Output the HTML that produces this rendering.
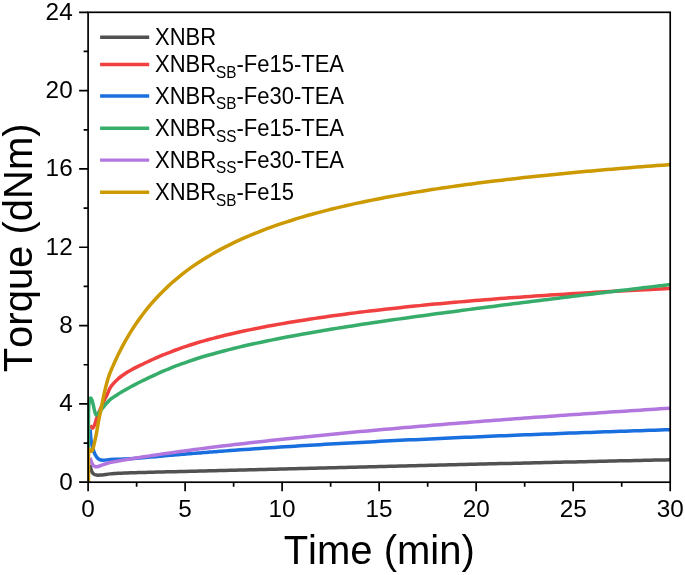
<!DOCTYPE html>
<html><head><meta charset="utf-8"><title>Torque vs Time</title>
<style>html,body{margin:0;padding:0;background:#fff}body{width:685px;height:575px;overflow:hidden}</style></head>
<body>
<svg width="685" height="575" viewBox="0 0 685 575" style="display:block">
<rect width="685" height="575" fill="#fff"/>
<defs><clipPath id="pc"><rect x="87.40" y="11.60" width="583.50" height="471.30"/></clipPath></defs>
<g clip-path="url(#pc)" fill="none" stroke-width="3.5" stroke-linejoin="round">
<path d="M90.20 464.80 C90.40 466.03 90.48 467.30 90.80 468.50 C91.15 469.80 91.53 471.17 92.20 472.30 C92.69 473.13 93.49 473.88 94.30 474.40 C94.89 474.78 95.68 474.91 96.40 475.00 C97.58 475.14 98.81 475.17 100.00 475.08 C103.34 474.80 106.66 474.23 110.00 473.87 C111.33 473.73 112.67 473.68 114.00 473.59 C115.33 473.51 116.67 473.43 118.00 473.36 C119.33 473.29 120.67 473.23 122.00 473.17 C123.33 473.11 124.67 473.06 126.00 473.01 C127.33 472.96 128.67 472.91 130.00 472.86 C131.33 472.82 132.67 472.77 134.00 472.73 C135.33 472.69 136.67 472.65 138.00 472.61 C139.33 472.57 140.67 472.53 142.00 472.49 C143.33 472.45 144.67 472.41 146.00 472.38 C147.33 472.34 148.67 472.30 150.00 472.27 C151.33 472.23 152.67 472.20 154.00 472.16 C155.33 472.13 156.67 472.10 158.00 472.06 C159.33 472.03 160.67 471.99 162.00 471.96 C163.33 471.93 164.67 471.89 166.00 471.86 C167.33 471.83 168.67 471.79 170.00 471.76 C173.33 471.68 176.67 471.60 180.00 471.51 C183.33 471.43 186.67 471.35 190.00 471.27 C193.33 471.19 196.67 471.10 200.00 471.02 C203.33 470.94 206.67 470.86 210.00 470.77 C213.33 470.69 216.67 470.61 220.00 470.53 C223.33 470.44 226.67 470.36 230.00 470.28 C233.33 470.19 236.67 470.11 240.00 470.03 C243.33 469.94 246.67 469.86 250.00 469.78 C253.33 469.69 256.67 469.61 260.00 469.52 C263.33 469.44 266.67 469.36 270.00 469.27 C273.33 469.19 276.67 469.10 280.00 469.02 C283.33 468.93 286.67 468.85 290.00 468.77 C293.33 468.68 296.67 468.60 300.00 468.51 C303.33 468.43 306.67 468.35 310.00 468.26 C313.33 468.18 316.67 468.09 320.00 468.01 C323.33 467.93 326.67 467.84 330.00 467.76 C333.33 467.68 336.67 467.59 340.00 467.51 C343.33 467.43 346.67 467.34 350.00 467.26 C353.33 467.18 356.67 467.09 360.00 467.01 C363.33 466.93 366.67 466.84 370.00 466.76 C373.33 466.68 376.67 466.60 380.00 466.51 C383.33 466.43 386.67 466.35 390.00 466.27 C393.33 466.18 396.67 466.10 400.00 466.02 C403.33 465.94 406.67 465.86 410.00 465.77 C413.33 465.69 416.67 465.61 420.00 465.53 C423.33 465.45 426.67 465.37 430.00 465.29 C433.33 465.21 436.67 465.13 440.00 465.05 C443.33 464.96 446.67 464.88 450.00 464.80 C453.33 464.72 456.67 464.64 460.00 464.56 C463.33 464.48 466.67 464.40 470.00 464.33 C473.33 464.25 476.67 464.17 480.00 464.09 C483.33 464.01 486.67 463.93 490.00 463.85 C493.33 463.77 496.67 463.69 500.00 463.62 C503.33 463.54 506.67 463.46 510.00 463.38 C513.33 463.30 516.67 463.22 520.00 463.15 C523.33 463.07 526.67 462.99 530.00 462.91 C533.33 462.84 536.67 462.76 540.00 462.68 C543.33 462.61 546.67 462.53 550.00 462.45 C553.33 462.38 556.67 462.30 560.00 462.22 C563.33 462.15 566.67 462.07 570.00 462.00 C573.33 461.92 576.67 461.84 580.00 461.77 C583.33 461.69 586.67 461.62 590.00 461.54 C593.33 461.47 596.67 461.39 600.00 461.32 C603.33 461.24 606.67 461.17 610.00 461.09 C613.33 461.02 616.67 460.95 620.00 460.87 C623.33 460.80 626.67 460.72 630.00 460.65 C633.33 460.58 636.67 460.50 640.00 460.43 C643.33 460.36 646.67 460.28 650.00 460.21 C653.33 460.14 656.67 460.06 660.00 459.99 C663.33 459.92 666.67 459.85 670.00 459.77" stroke="#515151"/>
<path d="M90.20 425.30 C90.60 426.00 90.87 426.85 91.40 427.40 C91.73 427.75 92.49 428.25 92.80 428.00 C93.55 427.39 94.15 425.93 94.60 424.80 C95.52 422.47 96.06 419.97 96.90 417.60 C97.66 415.47 98.53 413.38 99.40 411.30 C100.86 407.82 102.32 404.33 103.90 400.90 C104.99 398.53 106.28 396.26 107.40 393.90 C108.32 391.97 108.91 389.86 110.00 388.04 C111.11 386.20 112.57 384.55 114.00 382.93 C115.24 381.53 116.62 380.24 118.00 378.97 C118.95 378.10 119.97 377.29 121.00 376.51 C122.30 375.52 123.65 374.59 125.00 373.68 C125.98 373.02 126.99 372.40 128.00 371.80 C129.32 371.02 130.66 370.26 132.00 369.52 C132.99 368.97 133.99 368.44 135.00 367.93 C136.66 367.08 138.33 366.24 140.00 365.42 C141.66 364.60 143.33 363.81 145.00 363.02 C146.66 362.23 148.33 361.46 150.00 360.69 C151.66 359.93 153.33 359.17 155.00 358.43 C156.33 357.84 157.66 357.25 159.00 356.68 C160.33 356.11 161.66 355.54 163.00 354.98 C164.33 354.43 165.66 353.89 167.00 353.35 C168.33 352.81 169.66 352.29 171.00 351.77 C172.33 351.26 173.66 350.75 175.00 350.25 C176.33 349.76 177.66 349.27 179.00 348.79 C180.33 348.31 181.66 347.85 183.00 347.39 C184.33 346.93 185.66 346.48 187.00 346.04 C188.33 345.60 189.66 345.16 191.00 344.74 C192.33 344.31 193.66 343.90 195.00 343.49 C196.33 343.08 197.66 342.67 199.00 342.28 C200.33 341.88 201.66 341.49 203.00 341.11 C204.33 340.73 205.67 340.35 207.00 339.98 C208.33 339.61 209.67 339.25 211.00 338.89 C212.33 338.53 213.66 338.17 215.00 337.83 C218.33 336.98 221.66 336.13 225.00 335.32 C228.33 334.51 231.66 333.73 235.00 332.98 C238.33 332.22 241.66 331.49 245.00 330.78 C248.33 330.07 251.66 329.39 255.00 328.72 C258.33 328.05 261.66 327.40 265.00 326.77 C268.33 326.14 271.66 325.52 275.00 324.92 C278.33 324.32 281.66 323.74 285.00 323.17 C288.33 322.60 291.66 322.04 295.00 321.50 C298.33 320.96 301.66 320.43 305.00 319.91 C308.33 319.39 311.67 318.88 315.00 318.38 C318.33 317.88 321.67 317.40 325.00 316.92 C328.33 316.44 331.67 315.98 335.00 315.52 C338.33 315.06 341.67 314.61 345.00 314.17 C348.33 313.73 351.67 313.30 355.00 312.88 C358.33 312.45 361.67 312.04 365.00 311.63 C368.33 311.23 371.67 310.83 375.00 310.44 C378.33 310.04 381.67 309.66 385.00 309.28 C388.33 308.91 391.67 308.54 395.00 308.17 C398.33 307.81 401.67 307.45 405.00 307.10 C408.33 306.75 411.67 306.41 415.00 306.07 C418.33 305.73 421.67 305.40 425.00 305.08 C428.33 304.75 431.67 304.43 435.00 304.11 C438.33 303.80 441.67 303.49 445.00 303.19 C448.33 302.88 451.67 302.58 455.00 302.29 C458.33 301.99 461.67 301.71 465.00 301.42 C468.33 301.14 471.67 300.86 475.00 300.58 C478.33 300.31 481.67 300.04 485.00 299.77 C488.33 299.50 491.67 299.24 495.00 298.98 C498.33 298.73 501.67 298.47 505.00 298.22 C508.33 297.97 511.67 297.73 515.00 297.49 C518.33 297.24 521.67 297.01 525.00 296.77 C528.33 296.54 531.67 296.31 535.00 296.08 C538.33 295.85 541.67 295.63 545.00 295.41 C548.33 295.19 551.67 294.97 555.00 294.76 C558.33 294.54 561.67 294.33 565.00 294.13 C568.33 293.92 571.67 293.72 575.00 293.51 C578.33 293.31 581.67 293.11 585.00 292.92 C588.33 292.72 591.67 292.53 595.00 292.34 C598.33 292.15 601.67 291.97 605.00 291.78 C608.33 291.60 611.67 291.42 615.00 291.24 C618.33 291.06 621.67 290.88 625.00 290.71 C628.33 290.53 631.67 290.36 635.00 290.19 C638.33 290.02 641.67 289.86 645.00 289.69 C648.33 289.53 651.67 289.37 655.00 289.21 C658.33 289.05 661.67 288.89 665.00 288.74 C666.67 288.66 668.33 288.58 670.00 288.51" stroke="#F14040"/>
<path d="M90.20 429.50 C90.27 430.67 90.30 431.84 90.40 433.00 C90.62 435.67 90.78 438.35 91.15 441.00 C91.38 442.68 91.80 444.35 92.20 446.00 C92.55 447.41 92.92 448.83 93.40 450.20 C93.98 451.86 94.52 453.59 95.40 455.10 C96.22 456.52 97.18 458.13 98.50 459.00 C99.82 459.87 101.67 460.24 103.30 460.30 C105.51 460.38 107.76 459.56 110.00 459.42 C113.32 459.21 116.67 459.37 120.00 459.24 C123.34 459.11 126.67 458.88 130.00 458.66 C133.34 458.44 136.67 458.17 140.00 457.91 C143.33 457.65 146.67 457.37 150.00 457.09 C153.33 456.81 156.67 456.52 160.00 456.24 C163.33 455.95 166.67 455.67 170.00 455.38 C171.33 455.27 172.67 455.16 174.00 455.04 C175.33 454.93 176.67 454.82 178.00 454.70 C179.33 454.59 180.67 454.48 182.00 454.37 C183.33 454.26 184.67 454.15 186.00 454.03 C187.33 453.92 188.67 453.81 190.00 453.70 C191.33 453.59 192.67 453.49 194.00 453.38 C195.33 453.27 196.67 453.16 198.00 453.05 C199.33 452.94 200.67 452.84 202.00 452.73 C203.33 452.62 204.67 452.52 206.00 452.41 C207.33 452.31 208.67 452.20 210.00 452.10 C211.33 451.99 212.67 451.89 214.00 451.79 C215.33 451.68 216.67 451.58 218.00 451.48 C219.33 451.38 220.67 451.28 222.00 451.18 C223.33 451.07 224.67 450.97 226.00 450.87 C227.33 450.77 228.67 450.67 230.00 450.58 C233.33 450.33 236.67 450.09 240.00 449.85 C243.33 449.61 246.67 449.37 250.00 449.14 C253.33 448.90 256.67 448.67 260.00 448.44 C263.33 448.22 266.67 447.99 270.00 447.77 C273.33 447.55 276.67 447.33 280.00 447.12 C283.33 446.90 286.67 446.69 290.00 446.48 C293.33 446.27 296.67 446.06 300.00 445.85 C303.33 445.65 306.67 445.45 310.00 445.25 C313.33 445.05 316.67 444.85 320.00 444.65 C323.33 444.46 326.67 444.27 330.00 444.08 C333.33 443.88 336.67 443.70 340.00 443.51 C343.33 443.32 346.67 443.14 350.00 442.96 C353.33 442.77 356.67 442.59 360.00 442.42 C363.33 442.24 366.67 442.06 370.00 441.89 C373.33 441.71 376.67 441.54 380.00 441.37 C383.33 441.20 386.67 441.03 390.00 440.86 C393.33 440.69 396.67 440.53 400.00 440.36 C403.33 440.20 406.67 440.03 410.00 439.87 C413.33 439.71 416.67 439.55 420.00 439.39 C423.33 439.24 426.67 439.08 430.00 438.92 C433.33 438.77 436.67 438.62 440.00 438.46 C443.33 438.31 446.67 438.16 450.00 438.01 C453.33 437.86 456.67 437.71 460.00 437.57 C463.33 437.42 466.67 437.27 470.00 437.13 C473.33 436.98 476.67 436.84 480.00 436.70 C483.33 436.56 486.67 436.42 490.00 436.28 C493.33 436.14 496.67 436.00 500.00 435.86 C503.33 435.72 506.67 435.59 510.00 435.45 C513.33 435.32 516.67 435.18 520.00 435.05 C523.33 434.91 526.67 434.78 530.00 434.65 C533.33 434.52 536.67 434.39 540.00 434.26 C543.33 434.13 546.67 434.00 550.00 433.88 C553.33 433.75 556.67 433.62 560.00 433.50 C563.33 433.37 566.67 433.25 570.00 433.12 C573.33 433.00 576.67 432.88 580.00 432.76 C583.33 432.63 586.67 432.51 590.00 432.39 C593.33 432.27 596.67 432.15 600.00 432.03 C603.33 431.92 606.67 431.80 610.00 431.68 C613.33 431.56 616.67 431.45 620.00 431.33 C623.33 431.22 626.67 431.10 630.00 430.99 C633.33 430.87 636.67 430.76 640.00 430.65 C643.33 430.54 646.67 430.42 650.00 430.31 C653.33 430.20 656.67 430.09 660.00 429.98 C663.33 429.87 666.67 429.76 670.00 429.66" stroke="#1A6FDF"/>
<path d="M88.40 449.00 C88.42 442.67 88.42 436.33 88.45 430.00 C88.48 423.33 88.42 416.66 88.60 410.00 C88.67 407.16 88.76 404.28 89.20 401.50 C89.39 400.28 89.96 398.36 90.50 398.00 C90.82 397.79 91.51 399.13 91.80 399.80 C92.31 400.96 92.57 402.26 92.90 403.50 C93.27 404.92 93.56 406.37 93.90 407.80 C94.29 409.47 94.57 411.18 95.10 412.80 C95.37 413.62 95.78 414.96 96.30 415.10 C96.75 415.22 97.50 414.16 98.00 413.60 C99.73 411.66 101.31 409.58 103.00 407.60 C105.14 405.09 107.05 402.32 109.50 400.14 C112.05 397.87 115.13 396.17 118.00 394.26 C119.30 393.39 120.66 392.61 122.00 391.81 C123.32 391.01 124.66 390.24 126.00 389.48 C127.33 388.73 128.66 387.99 130.00 387.26 C131.33 386.54 132.66 385.83 134.00 385.12 C135.33 384.43 136.66 383.74 138.00 383.06 C139.33 382.38 140.66 381.71 142.00 381.05 C143.33 380.39 144.66 379.74 146.00 379.09 C147.33 378.45 148.66 377.81 150.00 377.18 C151.33 376.55 152.66 375.93 154.00 375.31 C155.33 374.70 156.66 374.09 158.00 373.49 C159.33 372.89 160.66 372.30 162.00 371.71 C163.33 371.13 164.66 370.56 166.00 370.00 C167.33 369.44 168.66 368.88 170.00 368.34 C171.33 367.80 172.66 367.26 174.00 366.73 C175.33 366.21 176.66 365.68 178.00 365.19 C181.33 363.96 184.65 362.73 188.00 361.57 C191.32 360.42 194.65 359.33 198.00 358.28 C201.32 357.23 204.66 356.23 208.00 355.26 C211.32 354.29 214.66 353.36 218.00 352.46 C221.33 351.56 224.66 350.69 228.00 349.85 C231.33 349.01 234.66 348.19 238.00 347.40 C241.33 346.60 244.66 345.83 248.00 345.08 C251.33 344.32 254.66 343.59 258.00 342.87 C261.33 342.16 264.66 341.46 268.00 340.77 C271.33 340.09 274.66 339.42 278.00 338.76 C281.33 338.11 284.66 337.46 288.00 336.83 C291.33 336.20 294.66 335.58 298.00 334.97 C301.33 334.36 304.67 333.77 308.00 333.18 C311.33 332.59 314.67 332.01 318.00 331.44 C321.33 330.87 324.67 330.31 328.00 329.76 C331.33 329.21 334.67 328.66 338.00 328.13 C341.33 327.59 344.67 327.06 348.00 326.54 C351.33 326.01 354.67 325.50 358.00 324.99 C361.33 324.48 364.67 323.97 368.00 323.48 C371.33 322.98 374.67 322.48 378.00 321.99 C381.33 321.51 384.67 321.02 388.00 320.54 C391.33 320.06 394.67 319.59 398.00 319.11 C401.33 318.64 404.67 318.17 408.00 317.71 C411.33 317.24 414.67 316.78 418.00 316.32 C421.33 315.86 424.67 315.41 428.00 314.96 C431.33 314.50 434.67 314.05 438.00 313.60 C441.33 313.15 444.67 312.71 448.00 312.27 C451.33 311.82 454.67 311.38 458.00 310.94 C461.33 310.50 464.67 310.06 468.00 309.63 C471.33 309.19 474.67 308.76 478.00 308.33 C481.33 307.89 484.67 307.46 488.00 307.03 C491.33 306.60 494.67 306.18 498.00 305.75 C501.33 305.32 504.67 304.90 508.00 304.47 C511.33 304.05 514.67 303.63 518.00 303.21 C521.33 302.79 524.67 302.37 528.00 301.95 C531.33 301.53 534.67 301.11 538.00 300.69 C541.33 300.28 544.67 299.86 548.00 299.44 C551.33 299.03 554.67 298.62 558.00 298.20 C561.33 297.79 564.67 297.38 568.00 296.97 C571.33 296.55 574.67 296.14 578.00 295.73 C581.33 295.32 584.67 294.92 588.00 294.51 C591.33 294.10 594.67 293.69 598.00 293.28 C601.33 292.88 604.67 292.47 608.00 292.07 C611.33 291.66 614.67 291.26 618.00 290.85 C621.33 290.45 624.67 290.04 628.00 289.64 C631.33 289.24 634.67 288.84 638.00 288.43 C641.33 288.03 644.67 287.63 648.00 287.23 C651.33 286.83 654.67 286.43 658.00 286.03 C661.33 285.63 664.67 285.23 668.00 284.83 C668.67 284.75 669.33 284.68 670.00 284.60" stroke="#37AD6B"/>
<path d="M90.20 457.80 C90.57 459.03 90.84 460.30 91.30 461.50 C91.77 462.70 92.21 464.03 93.00 465.00 C93.64 465.79 94.65 466.56 95.60 466.80 C96.48 467.02 97.57 466.67 98.50 466.40 C100.13 465.94 101.68 465.16 103.30 464.61 C105.52 463.86 107.74 463.10 110.00 462.50 C111.31 462.16 112.67 462.02 114.00 461.78 C115.33 461.54 116.67 461.30 118.00 461.07 C119.33 460.84 120.67 460.60 122.00 460.38 C123.33 460.15 124.67 459.92 126.00 459.70 C127.33 459.47 128.67 459.25 130.00 459.03 C131.33 458.81 132.67 458.60 134.00 458.38 C135.33 458.16 136.67 457.95 138.00 457.74 C139.33 457.52 140.67 457.31 142.00 457.10 C143.33 456.90 144.67 456.69 146.00 456.48 C147.33 456.28 148.67 456.07 150.00 455.87 C151.33 455.67 152.67 455.47 154.00 455.27 C155.33 455.07 156.67 454.87 158.00 454.67 C159.33 454.47 160.67 454.28 162.00 454.08 C163.33 453.89 164.67 453.70 166.00 453.51 C167.33 453.31 168.67 453.12 170.00 452.93 C173.33 452.47 176.67 452.00 180.00 451.54 C183.33 451.08 186.67 450.63 190.00 450.19 C193.33 449.74 196.67 449.31 200.00 448.87 C203.33 448.44 206.67 448.02 210.00 447.60 C213.33 447.18 216.67 446.77 220.00 446.36 C223.33 445.95 226.67 445.55 230.00 445.15 C233.33 444.75 236.67 444.36 240.00 443.97 C243.33 443.58 246.67 443.20 250.00 442.82 C253.33 442.44 256.67 442.06 260.00 441.69 C263.33 441.32 266.67 440.95 270.00 440.59 C273.33 440.23 276.67 439.87 280.00 439.51 C283.33 439.16 286.67 438.80 290.00 438.46 C293.33 438.11 296.67 437.76 300.00 437.42 C303.33 437.08 306.67 436.74 310.00 436.41 C313.33 436.07 316.67 435.74 320.00 435.41 C323.33 435.08 326.67 434.76 330.00 434.43 C333.33 434.11 336.67 433.79 340.00 433.47 C343.33 433.16 346.67 432.84 350.00 432.53 C353.33 432.22 356.67 431.91 360.00 431.60 C363.33 431.29 366.67 430.99 370.00 430.69 C373.33 430.39 376.67 430.09 380.00 429.79 C383.33 429.49 386.67 429.20 390.00 428.90 C393.33 428.61 396.67 428.32 400.00 428.03 C403.33 427.74 406.67 427.46 410.00 427.17 C413.33 426.89 416.67 426.61 420.00 426.33 C423.33 426.05 426.67 425.77 430.00 425.49 C433.33 425.22 436.67 424.94 440.00 424.67 C443.33 424.40 446.67 424.13 450.00 423.86 C453.33 423.59 456.67 423.32 460.00 423.06 C463.33 422.79 466.67 422.53 470.00 422.27 C473.33 422.01 476.67 421.75 480.00 421.49 C483.33 421.23 486.67 420.97 490.00 420.72 C493.33 420.46 496.67 420.21 500.00 419.95 C503.33 419.70 506.67 419.45 510.00 419.20 C513.33 418.95 516.67 418.70 520.00 418.46 C523.33 418.21 526.67 417.97 530.00 417.72 C533.33 417.48 536.67 417.24 540.00 417.00 C543.33 416.76 546.67 416.52 550.00 416.28 C553.33 416.04 556.67 415.80 560.00 415.57 C563.33 415.33 566.67 415.10 570.00 414.86 C573.33 414.63 576.67 414.40 580.00 414.17 C583.33 413.94 586.67 413.71 590.00 413.48 C593.33 413.25 596.67 413.02 600.00 412.80 C603.33 412.57 606.67 412.35 610.00 412.12 C613.33 411.90 616.67 411.68 620.00 411.46 C623.33 411.23 626.67 411.01 630.00 410.79 C633.33 410.58 636.67 410.36 640.00 410.14 C643.33 409.92 646.67 409.71 650.00 409.49 C653.33 409.28 656.67 409.06 660.00 408.85 C663.33 408.64 666.67 408.42 670.00 408.21" stroke="#B177DE"/>
<path d="M88.50 482.00 C88.50 476.33 88.48 470.67 88.50 465.00 C88.52 460.17 88.36 455.28 88.60 450.50 C88.62 450.04 89.03 449.26 89.30 449.30 C89.67 449.36 90.02 450.41 90.50 450.80 C90.79 451.04 91.32 451.33 91.60 451.20 C92.02 451.00 92.37 450.32 92.60 449.80 C92.97 448.95 93.18 448.01 93.40 447.10 C94.31 443.28 95.23 439.45 96.00 435.60 C97.03 430.42 97.81 425.19 98.80 420.00 C99.58 415.92 100.47 411.87 101.30 407.80 C102.24 403.17 103.06 398.51 104.10 393.90 C105.16 389.24 106.31 384.60 107.60 380.00 C108.27 377.61 109.14 375.27 110.00 372.94 C110.60 371.32 111.31 369.73 112.00 368.15 C113.31 365.15 114.62 362.16 116.00 359.20 C117.29 356.44 118.62 353.70 120.00 350.98 C121.29 348.43 122.63 345.91 124.00 343.41 C125.29 341.05 126.63 338.71 128.00 336.39 C129.30 334.20 130.63 332.03 132.00 329.88 C133.30 327.83 134.64 325.80 136.00 323.79 C137.30 321.87 138.64 319.98 140.00 318.10 C141.31 316.30 142.64 314.51 144.00 312.75 C145.31 311.05 146.64 309.38 148.00 307.72 C149.31 306.11 150.65 304.53 152.00 302.97 C153.31 301.45 154.65 299.96 156.00 298.48 C157.31 297.05 158.65 295.63 160.00 294.23 C161.32 292.87 162.65 291.53 164.00 290.20 C165.32 288.91 166.65 287.64 168.00 286.38 C169.32 285.15 170.63 283.91 172.00 282.74 C175.30 279.91 178.59 277.07 182.00 274.38 C185.26 271.80 188.61 269.33 192.00 266.93 C195.27 264.61 198.62 262.39 202.00 260.23 C205.29 258.14 208.63 256.12 212.00 254.17 C215.29 252.26 218.63 250.43 222.00 248.65 C225.30 246.90 228.64 245.22 232.00 243.59 C235.31 241.98 238.64 240.44 242.00 238.93 C245.31 237.45 248.65 236.02 252.00 234.63 C255.31 233.26 258.65 231.93 262.00 230.64 C265.32 229.36 268.65 228.12 272.00 226.92 C275.32 225.73 278.66 224.58 282.00 223.45 C285.32 222.34 288.66 221.26 292.00 220.21 C295.32 219.16 298.66 218.15 302.00 217.16 C305.33 216.18 308.66 215.22 312.00 214.30 C315.33 213.37 318.66 212.47 322.00 211.60 C325.33 210.72 328.66 209.87 332.00 209.05 C335.33 208.22 338.66 207.42 342.00 206.64 C345.33 205.86 348.66 205.10 352.00 204.35 C355.33 203.61 358.66 202.89 362.00 202.19 C365.33 201.48 368.66 200.80 372.00 200.13 C375.33 199.46 378.66 198.81 382.00 198.17 C385.33 197.53 388.66 196.91 392.00 196.30 C395.33 195.69 398.66 195.09 402.00 194.51 C405.33 193.93 408.66 193.36 412.00 192.80 C415.33 192.24 418.66 191.70 422.00 191.16 C425.33 190.63 428.67 190.10 432.00 189.59 C435.33 189.08 438.67 188.58 442.00 188.08 C445.33 187.59 448.67 187.11 452.00 186.64 C455.33 186.16 458.67 185.70 462.00 185.24 C465.33 184.79 468.67 184.34 472.00 183.90 C475.33 183.46 478.67 183.03 482.00 182.61 C485.33 182.18 488.67 181.77 492.00 181.36 C495.33 180.95 498.67 180.55 502.00 180.15 C505.33 179.76 508.67 179.37 512.00 178.99 C515.33 178.61 518.67 178.23 522.00 177.86 C525.33 177.49 528.67 177.13 532.00 176.77 C535.33 176.41 538.67 176.06 542.00 175.72 C545.33 175.37 548.67 175.03 552.00 174.69 C555.33 174.36 558.67 174.03 562.00 173.70 C565.33 173.37 568.67 173.05 572.00 172.74 C575.33 172.42 578.67 172.11 582.00 171.80 C585.33 171.49 588.67 171.19 592.00 170.89 C595.33 170.59 598.67 170.30 602.00 170.01 C605.33 169.72 608.67 169.43 612.00 169.15 C615.33 168.87 618.67 168.59 622.00 168.31 C625.33 168.04 628.67 167.77 632.00 167.50 C635.33 167.23 638.67 166.97 642.00 166.71 C645.33 166.44 648.67 166.19 652.00 165.93 C655.33 165.68 658.67 165.43 662.00 165.18 C664.67 164.98 667.33 164.79 670.00 164.59" stroke="#CC9900"/>
</g>
<g stroke="#000" stroke-width="1.7" fill="none">
<rect x="88.10" y="12.30" width="582.10" height="469.90"/>
<path d="M88.10 482.20H79.10M88.10 443.04H83.60M88.10 403.88H79.10M88.10 364.73H83.60M88.10 325.57H79.10M88.10 286.41H83.60M88.10 247.25H79.10M88.10 208.09H83.60M88.10 168.93H79.10M88.10 129.78H83.60M88.10 90.62H79.10M88.10 51.46H83.60M88.10 12.30H79.10M88.10 482.20V491.20M136.61 482.20V486.70M185.12 482.20V491.20M233.62 482.20V486.70M282.13 482.20V491.20M330.64 482.20V486.70M379.15 482.20V491.20M427.66 482.20V486.70M476.17 482.20V491.20M524.67 482.20V486.70M573.18 482.20V491.20M621.69 482.20V486.70M670.20 482.20V491.20"/>
</g>
<g font-family="'Liberation Sans', sans-serif" fill="#000" style="font-kerning:none">
<g font-size="23.3" text-anchor="end">
<text transform="translate(72.7 489.5) scale(1.045 1)">0</text>
<text transform="translate(72.7 411.2) scale(1.045 1)">4</text>
<text transform="translate(72.7 332.9) scale(1.045 1)">8</text>
<text transform="translate(72.7 254.6) scale(1.045 1)">12</text>
<text transform="translate(72.7 176.2) scale(1.045 1)">16</text>
<text transform="translate(72.7 97.9) scale(1.045 1)">20</text>
<text transform="translate(72.7 19.6) scale(1.045 1)">24</text>
</g>
<g font-size="23.3" text-anchor="middle">
<text transform="translate(88.1 517.2) scale(1.045 1)">0</text>
<text transform="translate(185.1 517.2) scale(1.045 1)">5</text>
<text transform="translate(282.1 517.2) scale(1.045 1)">10</text>
<text transform="translate(379.1 517.2) scale(1.045 1)">15</text>
<text transform="translate(476.2 517.2) scale(1.045 1)">20</text>
<text transform="translate(573.2 517.2) scale(1.045 1)">25</text>
<text transform="translate(670.2 517.2) scale(1.045 1)">30</text>
</g>
<text x="379.2" y="564" font-size="40" text-anchor="middle">Time (min)</text>
<text transform="translate(32.1 247.9) rotate(-90)" font-size="40" text-anchor="middle">Torque (dNm)</text>
<g font-size="22">
<line x1="100.1" x2="149.2" y1="37.2" y2="37.2" stroke="#515151" stroke-width="3.4"/>
<text transform="translate(155.0 44.8) scale(1 1.06)">XNBR</text>
<line x1="100.1" x2="149.2" y1="64.5" y2="64.5" stroke="#F14040" stroke-width="3.4"/>
<text transform="translate(155.0 72.1) scale(1 1.06)">XNBR<tspan font-size="15.3" dy="5.4">SB</tspan><tspan dy="-5.4">-Fe15-TEA</tspan></text>
<line x1="100.1" x2="149.2" y1="96.0" y2="96.0" stroke="#1A6FDF" stroke-width="3.4"/>
<text transform="translate(155.0 103.6) scale(1 1.06)">XNBR<tspan font-size="15.3" dy="5.4">SB</tspan><tspan dy="-5.4">-Fe30-TEA</tspan></text>
<line x1="100.1" x2="149.2" y1="128.2" y2="128.2" stroke="#37AD6B" stroke-width="3.4"/>
<text transform="translate(155.0 135.8) scale(1 1.06)">XNBR<tspan font-size="15.3" dy="5.4">SS</tspan><tspan dy="-5.4">-Fe15-TEA</tspan></text>
<line x1="100.1" x2="149.2" y1="160.1" y2="160.1" stroke="#B177DE" stroke-width="3.4"/>
<text transform="translate(155.0 167.7) scale(1 1.06)">XNBR<tspan font-size="15.3" dy="5.4">SS</tspan><tspan dy="-5.4">-Fe30-TEA</tspan></text>
<line x1="100.1" x2="149.2" y1="192.3" y2="192.3" stroke="#CC9900" stroke-width="3.4"/>
<text transform="translate(155.0 199.9) scale(1 1.06)">XNBR<tspan font-size="15.3" dy="5.4">SB</tspan><tspan dy="-5.4">-Fe15</tspan></text>
</g>
</g>
</svg>
</body></html>
